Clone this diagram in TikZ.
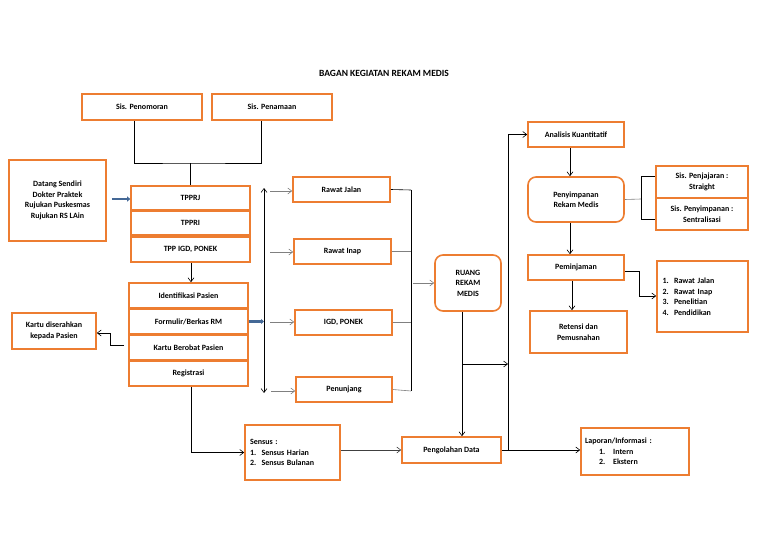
\documentclass[tikz,border=0pt]{standalone}
\usepackage{fontspec}
\setmainfont{Carlito}
\usetikzlibrary{arrows.meta}
\definecolor{org}{RGB}{237,125,49}
\definecolor{blu}{RGB}{68,104,150}
\begin{document}
\begin{tikzpicture}[x=1pt,y=-1pt,
  bx/.style={draw=org,line width=1.6pt,fill=white,font=\bfseries\fontsize{8}{10.5}\selectfont,align=center,inner sep=0pt},
  rbx/.style={bx,rounded corners=8pt},
  ln/.style={draw=black,line width=0.6pt},
  ar/.style={ln,-{Straight Barb[length=4pt,width=6pt]}},
  gar/.style={ar,draw=gray},
  bar/.style={draw=blu,line width=2.5pt,-{Triangle[length=3pt,width=5pt]}}]
\useasboundingbox (0,0) rectangle (768,543);
\node[font=\bfseries\fontsize{9.5}{11}\selectfont] (title) at (384,73) {BAGAN KEGIATAN REKAM MEDIS};
\node[bx,minimum width=120,minimum height=26] (pen) at (142,107) {Sis. Penomoran};
\node[bx,minimum width=120,minimum height=26] (nam) at (272,107) {Sis. Penamaan};
\node[bx,minimum width=97,minimum height=81] (dat) at (57.5,200.5) {Datang Sendiri\\Dokter Praktek\\Rujukan Puskesmas\\Rujukan RS LAin};
\node[bx,minimum width=119,minimum height=24] (rj) at (190.5,198) {TPPRJ};
\node[bx,minimum width=119,minimum height=24] (ri) at (190.5,223) {TPPRI};
\node[bx,minimum width=119,minimum height=25] (igdt) at (190.5,249.5) {TPP IGD, PONEK};
\node[bx,minimum width=119,minimum height=25] (idp) at (188.5,295.5) {Identifikasi Pasien};
\node[bx,minimum width=119,minimum height=25] (frm) at (188.5,321.5) {Formulir/Berkas RM};
\node[bx,minimum width=119,minimum height=25] (kbp) at (188.5,347.5) {Kartu Berobat Pasien};
\node[bx,minimum width=119,minimum height=25] (reg) at (188.5,373.5) {Registrasi};
\node[bx,minimum width=84,minimum height=36] (kds) at (54,331) {Kartu diserahkan\\kepada Pasien};
\node[bx,minimum width=97,minimum height=25] (rj2) at (341.5,189.5) {Rawat Jalan};
\node[bx,minimum width=97,minimum height=25] (ri2) at (342.5,251.5) {Rawat Inap};
\node[bx,minimum width=97,minimum height=25] (igd2) at (343.5,322.5) {IGD, PONEK};
\node[bx,minimum width=96,minimum height=25] (pnj) at (344,389.5) {Penunjang};
\node[rbx,minimum width=66,minimum height=56] (rrm) at (468,283) {RUANG\\REKAM\\MEDIS};
\node[bx,minimum width=99,minimum height=26] (peng) at (451.5,450) {Pengolahan Data};
\node[bx,minimum width=95,minimum height=55,align=left,text width=85] (sen) at (292.5,452.5) {Sensus :\\1.\ \ Sensus Harian\\2.\ \ Sensus Bulanan};
\node[bx,minimum width=108,minimum height=47,align=left,text width=100] (lap) at (635,451.5) {Laporan/Informasi :\\\hspace*{14pt}1.\quad Intern\\\hspace*{14pt}2.\quad Ekstern};
\node[bx,minimum width=96,minimum height=25] (ana) at (576,134.5) {Analisis Kuantitatif};
\node[rbx,minimum width=96,minimum height=45] (sim) at (576,199.5) {Penyimpanan\\Rekam Medis};
\node[bx,minimum width=92,minimum height=32] (sj) at (702,182) {Sis. Penjajaran :\\Straight};
\node[bx,minimum width=92,minimum height=32] (sp) at (702,214) {Sis. Penyimpanan :\\Sentralisasi};
\node[bx,minimum width=96,minimum height=25] (pem) at (576,267.5) {Peminjaman};
\node[bx,minimum width=97,minimum height=42] (ret) at (578.5,332) {Retensi dan\\Pemusnahan};
\node[bx,minimum width=91,minimum height=71,align=left,text width=80] (lst) at (702.5,296.5) {1.\ \ Rawat Jalan\\2.\ \ Rawat Inap\\3.\ \ Penelitian\\4.\ \ Pendidikan};
% connectors
\coordinate (j1) at (190,163);
\draw[ln] (pen.south -| 134,0) |- (j1) -| (nam.south -| 261,0);
\draw[ln] (j1) -- (rj.north -| j1);
\draw[bar] (dat.east |- 0,199) ++(5,0) -- (rj.west |- 0,199);
\draw[ar] (igdt.south -| 191,0) -- (idp.north -| 191,0);
\coordinate (k1) at (124,345);
\draw[ar] (k1) -- (110,345) |- (kds.east |- 0,333);
\draw[bar] (frm.east) -- (264,321.5);
\coordinate (vt) at (264,188); \coordinate (vb) at (264,393);
\draw[ln,{Straight Barb[length=4pt,width=6pt]}-{Straight Barb[length=4pt,width=6pt]}] (vt) -- (vb);
\draw[gar] (270,191) -- (rj2.west |- 0,191);
\draw[gar] (270,252) -- (ri2.west |- 0,252);
\draw[gar] (270,322) -- (igd2.west |- 0,322);
\draw[gar] (271,391) -- (pnj.west |- 0,391);
\coordinate (bx1) at (411,190); \coordinate (bx2) at (411,391);
\draw[ln] (rj2.east) -- (bx1);
\draw[ln,draw=gray] (ri2.east) -- (411,251.5);
\draw[ln,draw=gray] (igd2.east) -- (411,322.5);
\draw[ln,draw=gray] (pnj.east) -- (bx2);
\draw[ln] (bx1) -- (bx2);
\draw[gar] (413,283) -- (rrm.west);
\draw[ar] (rrm.south -| 462,0) -- (peng.north -| 462,0);
\coordinate (vx) at (508,450);
\draw[ar] (462,364) -- (508,364);
\draw[ar] (vx) |- (ana.west);
\draw[ar] (peng.east) -- (lap.west |- peng.east);
\draw[ar] (reg.south -| 191,0) |- (sen.west);
\draw[ar,draw=darkgray] (sen.east |- peng.west) -- (peng.west);
\draw[ar] (ana.south -| 570,0) -- (sim.north -| 570,0);
\draw[ar] (sim.south -| 570,0) -- (pem.north -| 570,0);
\draw[ar] (pem.south -| 572,0) -- (ret.north -| 572,0);
\draw[ln,draw=gray] (sim.east) -- (641,199);
\draw[ln] (sj.west |- 0,176) -- (641,176) -- (641,219) -- (sp.west |- 0,219);
\draw[ar] (pem.east |- 0,271) -- (639,271) |- (lst.west |- 0,296);
\end{tikzpicture}
\end{document}
